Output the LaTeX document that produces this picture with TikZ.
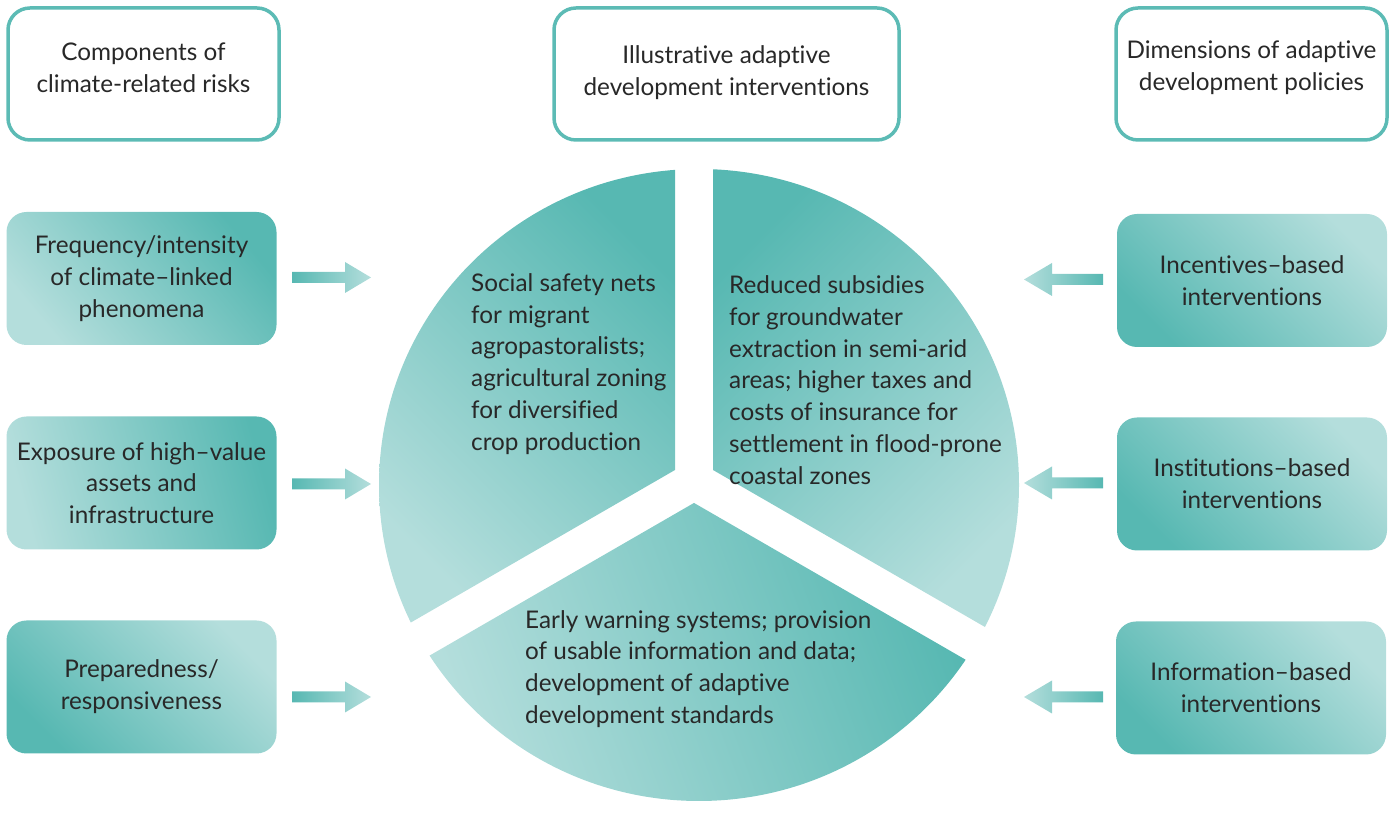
\documentclass[tikz,border=0pt]{standalone}
\usepackage{fontspec}
\setmainfont{Lato}[Ligatures={TeX,NoCommon}]
\definecolor{tdark}{RGB}{87,184,178}
\definecolor{tlight}{RGB}{180,222,220}
\definecolor{tborder}{RGB}{92,187,181}
\definecolor{txt}{RGB}{40,40,40}
\begin{document}
\begin{tikzpicture}[x=1pt,y=1pt,
  every node/.style={font=\fontsize{24.3}{31.8}\selectfont, text=txt},
  hdr/.style={draw=tborder, line width=3.5pt, rounded corners=22pt, fill=white,
    minimum height=132pt, inner sep=0pt},
  htext/.style={align=center, inner sep=0pt},
  fbox/.style={rounded corners=20pt, minimum width=270pt, minimum height=133pt,
    align=center, inner sep=0pt},
  ptext/.style={anchor=west, align=left, inner sep=0pt},
  darkTR/.style={top color=tdark, bottom color=tlight, shading angle=-50},
  darkR/.style={top color=tdark, bottom color=tlight, shading angle=-75},
  darkBL/.style={top color=tdark, bottom color=tlight, shading angle=135},
  arrL/.style={top color=tdark, bottom color=tlight, shading angle=90},
  arrR/.style={top color=tdark, bottom color=tlight, shading angle=-90}
]
\useasboundingbox (0,0) rectangle (1395,813);

% header boxes
\node[hdr, minimum width=271pt] (h1) at (143.5,739) {};
\node[hdr, minimum width=345pt] (h2) at (726.5,739) {};
\node[hdr, minimum width=271pt] (h3) at (1251.5,739) {};
\node[htext] (h1t) at ([yshift=6]h1.center) {Components of\\climate-related risks};
\node[htext] (h2t) at ([yshift=1]h2.center) {Illustrative adaptive\\development interventions};
\node[htext] (h3t) at ([yshift=6]h3.center) {Dimensions of adaptive\\development policies};

% left boxes
\node[fbox, darkTR] (l1) at (141.5,534.5) {Frequency/intensity\\of climate–linked\\phenomena};
\node[fbox, darkR]  (l2) at (141.5,330) {Exposure of high–value\\assets and\\infrastructure};
\node[fbox, darkBL] (l3) at (141.5,126) {Preparedness/\\responsiveness};

% right boxes
\node[fbox, darkBL] (r1) at (1252,532.5) {Incentives–based\\interventions};
\node[fbox, darkBL] (r2) at (1252,329) {Institutions–based\\interventions};
\node[fbox, darkBL] (r3) at (1251,125) {Information–based\\interventions};

% left block arrows
\foreach \yy in {535.5,329,116}{
  \shade[arrL] (292,\yy+5.5) -- (345,\yy+5.5) -- (345,\yy+15.5) -- (371,\yy)
     -- (345,\yy-15.5) -- (345,\yy-5.5) -- (292,\yy-5.5) -- cycle;
}
% right block arrows
\foreach \yy in {533.5,330,116}{
  \shade[arrR] (1103,\yy+5.5) -- (1052,\yy+5.5) -- (1052,\yy+16.5) -- (1024,\yy)
     -- (1052,\yy-16.5) -- (1052,\yy-5.5) -- (1103,\yy-5.5) -- cycle;
}

% pie sectors
\begin{scope}
  \clip (699,328) ellipse[x radius=320, y radius=316];
  \clip (675,343) -- (675,700) -- (300,700) -- (300,126.5) -- cycle;
  \shade[top color=tdark, bottom color=tlight, shading angle=-45] (379,190) rectangle (675,645);
\end{scope}
\begin{scope}
  \clip (699,328) ellipse[x radius=320, y radius=316];
  \clip (713,343) -- (713,700) -- (1100,700) -- (1100,119.6) -- cycle;
  \shade[top color=tdark, bottom color=tlight, shading angle=45] (713,185) rectangle (1019,645);
\end{scope}
\begin{scope}
  \clip (699,328) ellipse[x radius=320, y radius=316];
  \clip (694,310.06) -- (300,82.6) -- (300,0) -- (1100,0) -- (1100,75.7) -- cycle;
  \shade[top color=tdark, bottom color=tlight, shading angle=-70] (420,12) rectangle (975,311);
\end{scope}

\node[ptext] (s1) at (471,449) {Social safety nets\\for migrant\\agropastoralists;\\agricultural zoning\\for diversified\\crop production};
\node[ptext] (s2) at (729,433) {Reduced subsidies\\for groundwater\\extraction in semi-arid\\areas; higher taxes and\\costs of insurance for\\settlement in flood-prone\\coastal zones};
\node[ptext] (s3) at (525,144) {Early warning systems; provision\\of usable information and data;\\development of adaptive\\development standards};
\end{tikzpicture}
\end{document}
